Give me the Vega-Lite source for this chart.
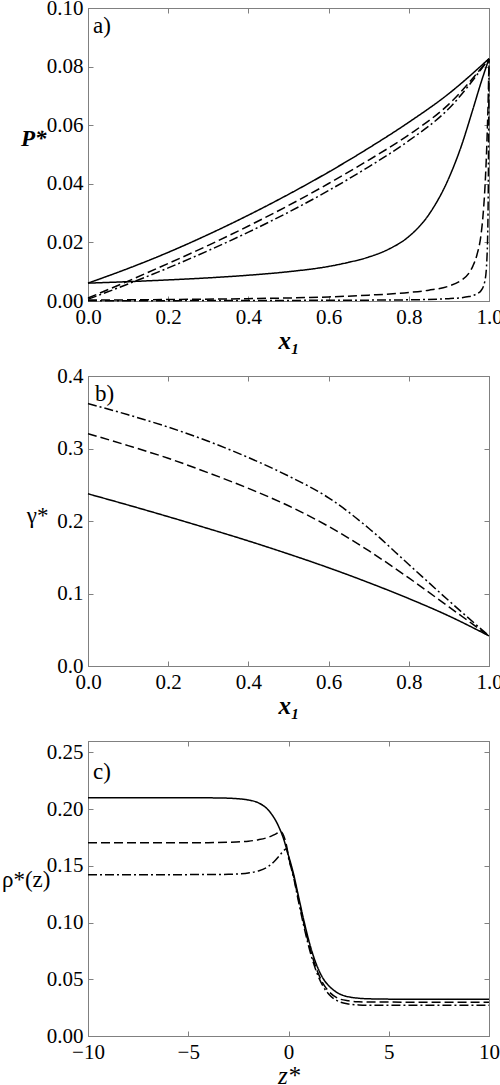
{
  "$schema": "https://vega.github.io/schema/vega-lite/v6.json",
  "padding": {"left": 0, "top": -4, "right": 0, "bottom": 0},
  "bounds": "flush",
  "spacing": 75,
  "datasets": {
    "a": [
      {"x": 0, "P": 0.0061, "curve": "a1", "style": "solid"},
      {"x": 0.1, "P": 0.0111, "curve": "a1", "style": "solid"},
      {"x": 0.2, "P": 0.0166, "curve": "a1", "style": "solid"},
      {"x": 0.3, "P": 0.0227, "curve": "a1", "style": "solid"},
      {"x": 0.4, "P": 0.0293, "curve": "a1", "style": "solid"},
      {"x": 0.5, "P": 0.0364, "curve": "a1", "style": "solid"},
      {"x": 0.6, "P": 0.0440, "curve": "a1", "style": "solid"},
      {"x": 0.7, "P": 0.0522, "curve": "a1", "style": "solid"},
      {"x": 0.8, "P": 0.0610, "curve": "a1", "style": "solid"},
      {"x": 0.9, "P": 0.0708, "curve": "a1", "style": "solid"},
      {"x": 1.0, "P": 0.0827, "curve": "a1", "style": "solid"},
      {"x": 0, "P": 0.0010, "curve": "a2", "style": "dashed"},
      {"x": 0.1, "P": 0.0068, "curve": "a2", "style": "dashed"},
      {"x": 0.2, "P": 0.0128, "curve": "a2", "style": "dashed"},
      {"x": 0.3, "P": 0.0190, "curve": "a2", "style": "dashed"},
      {"x": 0.4, "P": 0.0256, "curve": "a2", "style": "dashed"},
      {"x": 0.5, "P": 0.0326, "curve": "a2", "style": "dashed"},
      {"x": 0.6, "P": 0.0401, "curve": "a2", "style": "dashed"},
      {"x": 0.7, "P": 0.0481, "curve": "a2", "style": "dashed"},
      {"x": 0.8, "P": 0.0567, "curve": "a2", "style": "dashed"},
      {"x": 0.9, "P": 0.0672, "curve": "a2", "style": "dashed"},
      {"x": 1.0, "P": 0.0827, "curve": "a2", "style": "dashed"},
      {"x": 0, "P": 0.0006, "curve": "a3", "style": "dashdot"},
      {"x": 0.1, "P": 0.0058, "curve": "a3", "style": "dashdot"},
      {"x": 0.2, "P": 0.0113, "curve": "a3", "style": "dashdot"},
      {"x": 0.3, "P": 0.0172, "curve": "a3", "style": "dashdot"},
      {"x": 0.4, "P": 0.0235, "curve": "a3", "style": "dashdot"},
      {"x": 0.5, "P": 0.0303, "curve": "a3", "style": "dashdot"},
      {"x": 0.6, "P": 0.0377, "curve": "a3", "style": "dashdot"},
      {"x": 0.7, "P": 0.0458, "curve": "a3", "style": "dashdot"},
      {"x": 0.8, "P": 0.0547, "curve": "a3", "style": "dashdot"},
      {"x": 0.9, "P": 0.0657, "curve": "a3", "style": "dashdot"},
      {"x": 1.0, "P": 0.0827, "curve": "a3", "style": "dashdot"},
      {"x": 0, "P": 0.0061, "curve": "a4", "style": "solid"},
      {"x": 0.1, "P": 0.0066, "curve": "a4", "style": "solid"},
      {"x": 0.2, "P": 0.0072, "curve": "a4", "style": "solid"},
      {"x": 0.3, "P": 0.0079, "curve": "a4", "style": "solid"},
      {"x": 0.4, "P": 0.0088, "curve": "a4", "style": "solid"},
      {"x": 0.5, "P": 0.0100, "curve": "a4", "style": "solid"},
      {"x": 0.6, "P": 0.0118, "curve": "a4", "style": "solid"},
      {"x": 0.65, "P": 0.0132, "curve": "a4", "style": "solid"},
      {"x": 0.7, "P": 0.0150, "curve": "a4", "style": "solid"},
      {"x": 0.75, "P": 0.0177, "curve": "a4", "style": "solid"},
      {"x": 0.8, "P": 0.0220, "curve": "a4", "style": "solid"},
      {"x": 0.85, "P": 0.0295, "curve": "a4", "style": "solid"},
      {"x": 0.9, "P": 0.0420, "curve": "a4", "style": "solid"},
      {"x": 0.93, "P": 0.0525, "curve": "a4", "style": "solid"},
      {"x": 0.96, "P": 0.0655, "curve": "a4", "style": "solid"},
      {"x": 0.98, "P": 0.0745, "curve": "a4", "style": "solid"},
      {"x": 1.0, "P": 0.0827, "curve": "a4", "style": "solid"},
      {"x": 0, "P": 0.0003, "curve": "a5", "style": "dashed"},
      {"x": 0.2, "P": 0.0005, "curve": "a5", "style": "dashed"},
      {"x": 0.4, "P": 0.0008, "curve": "a5", "style": "dashed"},
      {"x": 0.6, "P": 0.0014, "curve": "a5", "style": "dashed"},
      {"x": 0.7, "P": 0.0020, "curve": "a5", "style": "dashed"},
      {"x": 0.8, "P": 0.0029, "curve": "a5", "style": "dashed"},
      {"x": 0.85, "P": 0.0037, "curve": "a5", "style": "dashed"},
      {"x": 0.9, "P": 0.0051, "curve": "a5", "style": "dashed"},
      {"x": 0.93, "P": 0.0070, "curve": "a5", "style": "dashed"},
      {"x": 0.95, "P": 0.0095, "curve": "a5", "style": "dashed"},
      {"x": 0.96, "P": 0.0120, "curve": "a5", "style": "dashed"},
      {"x": 0.97, "P": 0.0158, "curve": "a5", "style": "dashed"},
      {"x": 0.98, "P": 0.0225, "curve": "a5", "style": "dashed"},
      {"x": 0.985, "P": 0.0290, "curve": "a5", "style": "dashed"},
      {"x": 0.99, "P": 0.0390, "curve": "a5", "style": "dashed"},
      {"x": 0.995, "P": 0.0550, "curve": "a5", "style": "dashed"},
      {"x": 0.998, "P": 0.0690, "curve": "a5", "style": "dashed"},
      {"x": 1.0, "P": 0.0827, "curve": "a5", "style": "dashed"},
      {"x": 0, "P": 0.0001, "curve": "a6", "style": "dashdot"},
      {"x": 0.5, "P": 0.0002, "curve": "a6", "style": "dashdot"},
      {"x": 0.8, "P": 0.0004, "curve": "a6", "style": "dashdot"},
      {"x": 0.9, "P": 0.0008, "curve": "a6", "style": "dashdot"},
      {"x": 0.95, "P": 0.0015, "curve": "a6", "style": "dashdot"},
      {"x": 0.97, "P": 0.0025, "curve": "a6", "style": "dashdot"},
      {"x": 0.98, "P": 0.0035, "curve": "a6", "style": "dashdot"},
      {"x": 0.99, "P": 0.0070, "curve": "a6", "style": "dashdot"},
      {"x": 0.995, "P": 0.0150, "curve": "a6", "style": "dashdot"},
      {"x": 0.998, "P": 0.0350, "curve": "a6", "style": "dashdot"},
      {"x": 0.999, "P": 0.0550, "curve": "a6", "style": "dashdot"},
      {"x": 1.0, "P": 0.0827, "curve": "a6", "style": "dashdot"}
    ],
    "b": [
      {"x": 0, "g": 0.2375, "curve": "b1", "style": "solid"},
      {"x": 0.1, "g": 0.2220, "curve": "b1", "style": "solid"},
      {"x": 0.2, "g": 0.2060, "curve": "b1", "style": "solid"},
      {"x": 0.3, "g": 0.1895, "curve": "b1", "style": "solid"},
      {"x": 0.4, "g": 0.1725, "curve": "b1", "style": "solid"},
      {"x": 0.5, "g": 0.1545, "curve": "b1", "style": "solid"},
      {"x": 0.6, "g": 0.1355, "curve": "b1", "style": "solid"},
      {"x": 0.7, "g": 0.1150, "curve": "b1", "style": "solid"},
      {"x": 0.8, "g": 0.0930, "curve": "b1", "style": "solid"},
      {"x": 0.9, "g": 0.0690, "curve": "b1", "style": "solid"},
      {"x": 1.0, "g": 0.0415, "curve": "b1", "style": "solid"},
      {"x": 0, "g": 0.3205, "curve": "b2", "style": "dashed"},
      {"x": 0.1, "g": 0.3040, "curve": "b2", "style": "dashed"},
      {"x": 0.2, "g": 0.2865, "curve": "b2", "style": "dashed"},
      {"x": 0.3, "g": 0.2665, "curve": "b2", "style": "dashed"},
      {"x": 0.4, "g": 0.2450, "curve": "b2", "style": "dashed"},
      {"x": 0.5, "g": 0.2210, "curve": "b2", "style": "dashed"},
      {"x": 0.6, "g": 0.1925, "curve": "b2", "style": "dashed"},
      {"x": 0.7, "g": 0.1590, "curve": "b2", "style": "dashed"},
      {"x": 0.8, "g": 0.1215, "curve": "b2", "style": "dashed"},
      {"x": 0.9, "g": 0.0815, "curve": "b2", "style": "dashed"},
      {"x": 1.0, "g": 0.0415, "curve": "b2", "style": "dashed"},
      {"x": 0, "g": 0.3620, "curve": "b3", "style": "dashdot"},
      {"x": 0.1, "g": 0.3465, "curve": "b3", "style": "dashdot"},
      {"x": 0.2, "g": 0.3295, "curve": "b3", "style": "dashdot"},
      {"x": 0.3, "g": 0.3100, "curve": "b3", "style": "dashdot"},
      {"x": 0.4, "g": 0.2875, "curve": "b3", "style": "dashdot"},
      {"x": 0.5, "g": 0.2620, "curve": "b3", "style": "dashdot"},
      {"x": 0.6, "g": 0.2320, "curve": "b3", "style": "dashdot"},
      {"x": 0.7, "g": 0.1900, "curve": "b3", "style": "dashdot"},
      {"x": 0.8, "g": 0.1400, "curve": "b3", "style": "dashdot"},
      {"x": 0.9, "g": 0.0900, "curve": "b3", "style": "dashdot"},
      {"x": 1.0, "g": 0.0415, "curve": "b3", "style": "dashdot"}
    ],
    "c": [
      {"z": -10, "r": 0.2100, "curve": "c1", "style": "solid"},
      {"z": -6, "r": 0.2100, "curve": "c1", "style": "solid"},
      {"z": -4, "r": 0.2099, "curve": "c1", "style": "solid"},
      {"z": -3, "r": 0.2096, "curve": "c1", "style": "solid"},
      {"z": -2.5, "r": 0.2091, "curve": "c1", "style": "solid"},
      {"z": -2, "r": 0.2080, "curve": "c1", "style": "solid"},
      {"z": -1.5, "r": 0.2055, "curve": "c1", "style": "solid"},
      {"z": -1, "r": 0.1990, "curve": "c1", "style": "solid"},
      {"z": -0.5, "r": 0.1850, "curve": "c1", "style": "solid"},
      {"z": -0.25, "r": 0.1740, "curve": "c1", "style": "solid"},
      {"z": 0, "r": 0.1590, "curve": "c1", "style": "solid"},
      {"z": 0.25, "r": 0.1430, "curve": "c1", "style": "solid"},
      {"z": 0.5, "r": 0.1230, "curve": "c1", "style": "solid"},
      {"z": 0.75, "r": 0.1030, "curve": "c1", "style": "solid"},
      {"z": 1, "r": 0.0850, "curve": "c1", "style": "solid"},
      {"z": 1.25, "r": 0.0700, "curve": "c1", "style": "solid"},
      {"z": 1.5, "r": 0.0585, "curve": "c1", "style": "solid"},
      {"z": 1.75, "r": 0.0500, "curve": "c1", "style": "solid"},
      {"z": 2, "r": 0.0445, "curve": "c1", "style": "solid"},
      {"z": 2.5, "r": 0.0375, "curve": "c1", "style": "solid"},
      {"z": 3, "r": 0.0345, "curve": "c1", "style": "solid"},
      {"z": 3.5, "r": 0.0333, "curve": "c1", "style": "solid"},
      {"z": 4, "r": 0.0328, "curve": "c1", "style": "solid"},
      {"z": 5, "r": 0.0325, "curve": "c1", "style": "solid"},
      {"z": 10, "r": 0.0325, "curve": "c1", "style": "solid"},
      {"z": -10, "r": 0.1703, "curve": "c2", "style": "dashed"},
      {"z": -6, "r": 0.1703, "curve": "c2", "style": "dashed"},
      {"z": -4, "r": 0.1704, "curve": "c2", "style": "dashed"},
      {"z": -3, "r": 0.1707, "curve": "c2", "style": "dashed"},
      {"z": -2, "r": 0.1717, "curve": "c2", "style": "dashed"},
      {"z": -1.5, "r": 0.1730, "curve": "c2", "style": "dashed"},
      {"z": -1, "r": 0.1752, "curve": "c2", "style": "dashed"},
      {"z": -0.7, "r": 0.1775, "curve": "c2", "style": "dashed"},
      {"z": -0.5, "r": 0.1792, "curve": "c2", "style": "dashed"},
      {"z": -0.35, "r": 0.1798, "curve": "c2", "style": "dashed"},
      {"z": -0.2, "r": 0.1745, "curve": "c2", "style": "dashed"},
      {"z": -0.1, "r": 0.1680, "curve": "c2", "style": "dashed"},
      {"z": 0, "r": 0.1585, "curve": "c2", "style": "dashed"},
      {"z": 0.25, "r": 0.1410, "curve": "c2", "style": "dashed"},
      {"z": 0.5, "r": 0.1205, "curve": "c2", "style": "dashed"},
      {"z": 0.75, "r": 0.1005, "curve": "c2", "style": "dashed"},
      {"z": 1, "r": 0.0820, "curve": "c2", "style": "dashed"},
      {"z": 1.25, "r": 0.0665, "curve": "c2", "style": "dashed"},
      {"z": 1.5, "r": 0.0545, "curve": "c2", "style": "dashed"},
      {"z": 1.75, "r": 0.0455, "curve": "c2", "style": "dashed"},
      {"z": 2, "r": 0.0395, "curve": "c2", "style": "dashed"},
      {"z": 2.5, "r": 0.0330, "curve": "c2", "style": "dashed"},
      {"z": 3, "r": 0.0310, "curve": "c2", "style": "dashed"},
      {"z": 3.5, "r": 0.0302, "curve": "c2", "style": "dashed"},
      {"z": 4, "r": 0.0299, "curve": "c2", "style": "dashed"},
      {"z": 10, "r": 0.0298, "curve": "c2", "style": "dashed"},
      {"z": -10, "r": 0.1422, "curve": "c3", "style": "dashdot"},
      {"z": -6, "r": 0.1422, "curve": "c3", "style": "dashdot"},
      {"z": -4, "r": 0.1423, "curve": "c3", "style": "dashdot"},
      {"z": -3, "r": 0.1425, "curve": "c3", "style": "dashdot"},
      {"z": -2.5, "r": 0.1429, "curve": "c3", "style": "dashdot"},
      {"z": -2, "r": 0.1437, "curve": "c3", "style": "dashdot"},
      {"z": -1.5, "r": 0.1455, "curve": "c3", "style": "dashdot"},
      {"z": -1, "r": 0.1495, "curve": "c3", "style": "dashdot"},
      {"z": -0.7, "r": 0.1540, "curve": "c3", "style": "dashdot"},
      {"z": -0.4, "r": 0.1600, "curve": "c3", "style": "dashdot"},
      {"z": -0.2, "r": 0.1640, "curve": "c3", "style": "dashdot"},
      {"z": -0.1, "r": 0.1650, "curve": "c3", "style": "dashdot"},
      {"z": 0, "r": 0.1570, "curve": "c3", "style": "dashdot"},
      {"z": 0.25, "r": 0.1400, "curve": "c3", "style": "dashdot"},
      {"z": 0.5, "r": 0.1185, "curve": "c3", "style": "dashdot"},
      {"z": 0.75, "r": 0.0980, "curve": "c3", "style": "dashdot"},
      {"z": 1, "r": 0.0795, "curve": "c3", "style": "dashdot"},
      {"z": 1.25, "r": 0.0640, "curve": "c3", "style": "dashdot"},
      {"z": 1.5, "r": 0.0520, "curve": "c3", "style": "dashdot"},
      {"z": 1.75, "r": 0.0430, "curve": "c3", "style": "dashdot"},
      {"z": 2, "r": 0.0370, "curve": "c3", "style": "dashdot"},
      {"z": 2.5, "r": 0.0305, "curve": "c3", "style": "dashdot"},
      {"z": 3, "r": 0.0282, "curve": "c3", "style": "dashdot"},
      {"z": 3.5, "r": 0.0274, "curve": "c3", "style": "dashdot"},
      {"z": 4, "r": 0.0271, "curve": "c3", "style": "dashdot"},
      {"z": 10, "r": 0.0270, "curve": "c3", "style": "dashdot"}
    ]
  },
  "vconcat": [
    {
      "width": 401,
      "height": 293,
      "resolve": {"axis": {"x": "independent", "y": "independent"}},
      "layer": [
        {
          "data": {"name": "a"},
          "mark": {"type": "line", "color": "black", "strokeWidth": 1.5, "interpolate": "monotone"},
          "encoding": {
            "x": {"field": "x", "type": "quantitative", "scale": {"domain": [0, 1]},
              "axis": {"values": [0, 0.2, 0.4, 0.6, 0.8, 1], "format": ".1f", "title": "x₁",
                "labelFont": "Liberation Serif", "labelFontSize": 21, "titleFont": "Liberation Serif",
                "titleFontSize": 25, "titleFontStyle": "italic", "titleFontWeight": "bold"}},
            "y": {"field": "P", "type": "quantitative", "scale": {"domain": [0, 0.1]},
              "axis": {"values": [0, 0.02, 0.04, 0.06, 0.08, 0.1], "format": ".2f", "title": "P*",
                "labelFont": "Liberation Serif", "labelFontSize": 21, "titleFont": "Liberation Serif",
                "titleFontStyle": "italic", "titleFontWeight": "bold", "titleFontSize": 23,
                "titleAngle": 0, "titleAlign": "right", "titleBaseline": "middle", "titleX": -42, "titleY": 130}},
            "detail": {"field": "curve"},
            "strokeDash": {"field": "style", "type": "nominal", "legend": null,
              "scale": {"domain": ["solid", "dashed", "dashdot"], "range": [[1, 0], [9, 4], [9, 3, 2, 3]]}}
          }
        },
        {
          "data": {"values": [{"label": "a)"}]},
          "mark": {"type": "text", "align": "left", "baseline": "top", "dx": 5, "dy": 7, "fontSize": 23, "font": "Liberation Serif"},
          "encoding": {
            "x": {"datum": 0, "type": "quantitative", "axis": {"orient": "top", "labels": false, "title": null, "values": [0, 0.2, 0.4, 0.6, 0.8, 1]}},
            "y": {"datum": 0.1, "type": "quantitative", "axis": {"orient": "right", "labels": false, "title": null, "values": [0, 0.02, 0.04, 0.06, 0.08, 0.1]}},
            "text": {"field": "label"}
          }
        }
      ]
    },
    {
      "width": 401,
      "height": 290,
      "resolve": {"axis": {"x": "independent", "y": "independent"}},
      "layer": [
        {
          "data": {"name": "b"},
          "mark": {"type": "line", "color": "black", "strokeWidth": 1.5, "interpolate": "monotone"},
          "encoding": {
            "x": {"field": "x", "type": "quantitative", "scale": {"domain": [0, 1]},
              "axis": {"values": [0, 0.2, 0.4, 0.6, 0.8, 1], "format": ".1f", "title": "x₁",
                "labelFont": "Liberation Serif", "labelFontSize": 21, "titleFont": "Liberation Serif",
                "titleFontSize": 25, "titleFontStyle": "italic", "titleFontWeight": "bold"}},
            "y": {"field": "g", "type": "quantitative", "scale": {"domain": [0, 0.4]},
              "axis": {"values": [0, 0.1, 0.2, 0.3, 0.4], "format": ".1f", "title": "γ*",
                "labelFont": "Liberation Serif", "labelFontSize": 21, "titleFont": "Liberation Serif",
                "titleFontSize": 23, "titleFontWeight": "normal",
                "titleAngle": 0, "titleAlign": "right", "titleBaseline": "middle", "titleX": -40, "titleY": 139}},
            "detail": {"field": "curve"},
            "strokeDash": {"field": "style", "type": "nominal", "legend": null,
              "scale": {"domain": ["solid", "dashed", "dashdot"], "range": [[1, 0], [9, 4], [9, 3, 2, 3]]}}
          }
        },
        {
          "data": {"values": [{"label": "b)"}]},
          "mark": {"type": "text", "align": "left", "baseline": "top", "dx": 7, "dy": 7, "fontSize": 23, "font": "Liberation Serif"},
          "encoding": {
            "x": {"datum": 0, "type": "quantitative", "axis": {"orient": "top", "labels": false, "title": null, "values": [0, 0.2, 0.4, 0.6, 0.8, 1]}},
            "y": {"datum": 0.4, "type": "quantitative", "axis": {"orient": "right", "labels": false, "title": null, "values": [0, 0.1, 0.2, 0.3, 0.4]}},
            "text": {"field": "label"}
          }
        }
      ]
    },
    {
      "width": 401,
      "height": 295,
      "resolve": {"axis": {"x": "independent", "y": "independent"}},
      "layer": [
        {
          "data": {"name": "c"},
          "mark": {"type": "line", "color": "black", "strokeWidth": 1.5, "interpolate": "monotone"},
          "encoding": {
            "x": {"field": "z", "type": "quantitative", "scale": {"domain": [-10, 10]},
              "axis": {"values": [-10, -5, 0, 5, 10], "format": "d", "title": "z*",
                "labelFont": "Liberation Serif", "labelFontSize": 21, "titleFont": "Liberation Serif",
                "titleFontSize": 25, "titleFontStyle": "italic", "titleFontWeight": "normal"}},
            "y": {"field": "r", "type": "quantitative", "scale": {"domain": [0, 0.25]},
              "axis": {"values": [0, 0.05, 0.1, 0.15, 0.2, 0.25], "format": ".2f", "title": "ρ*(z)",
                "labelFont": "Liberation Serif", "labelFontSize": 21, "titleFont": "Liberation Serif",
                "titleFontSize": 23, "titleFontWeight": "normal",
                "titleAngle": 0, "titleAlign": "right", "titleBaseline": "middle", "titleX": -38, "titleY": 138}},
            "detail": {"field": "curve"},
            "strokeDash": {"field": "style", "type": "nominal", "legend": null,
              "scale": {"domain": ["solid", "dashed", "dashdot"], "range": [[1, 0], [9, 4], [9, 3, 2, 3]]}}
          }
        },
        {
          "data": {"values": [{"label": "c)"}]},
          "mark": {"type": "text", "align": "left", "baseline": "top", "dx": 5, "dy": 9, "fontSize": 23, "font": "Liberation Serif"},
          "encoding": {
            "x": {"datum": -10, "type": "quantitative", "axis": {"orient": "top", "labels": false, "title": null, "values": [-10, -5, 0, 5, 10]}},
            "y": {"datum": 0.25, "type": "quantitative", "axis": {"orient": "right", "labels": false, "title": null, "values": [0, 0.05, 0.1, 0.15, 0.2, 0.25]}},
            "text": {"field": "label"}
          }
        }
      ]
    }
  ],
  "config": {
    "view": {"stroke": "#808080", "strokeWidth": 1},
    "axis": {
      "labelColor": "black", "titleColor": "black",
      "domainColor": "#808080", "tickColor": "#808080", "tickSize": -5, "labelPadding": 10,
      "grid": false, "labelFlush": false, "labelOverlap": false, "titlePadding": 1
    }
  }
}
